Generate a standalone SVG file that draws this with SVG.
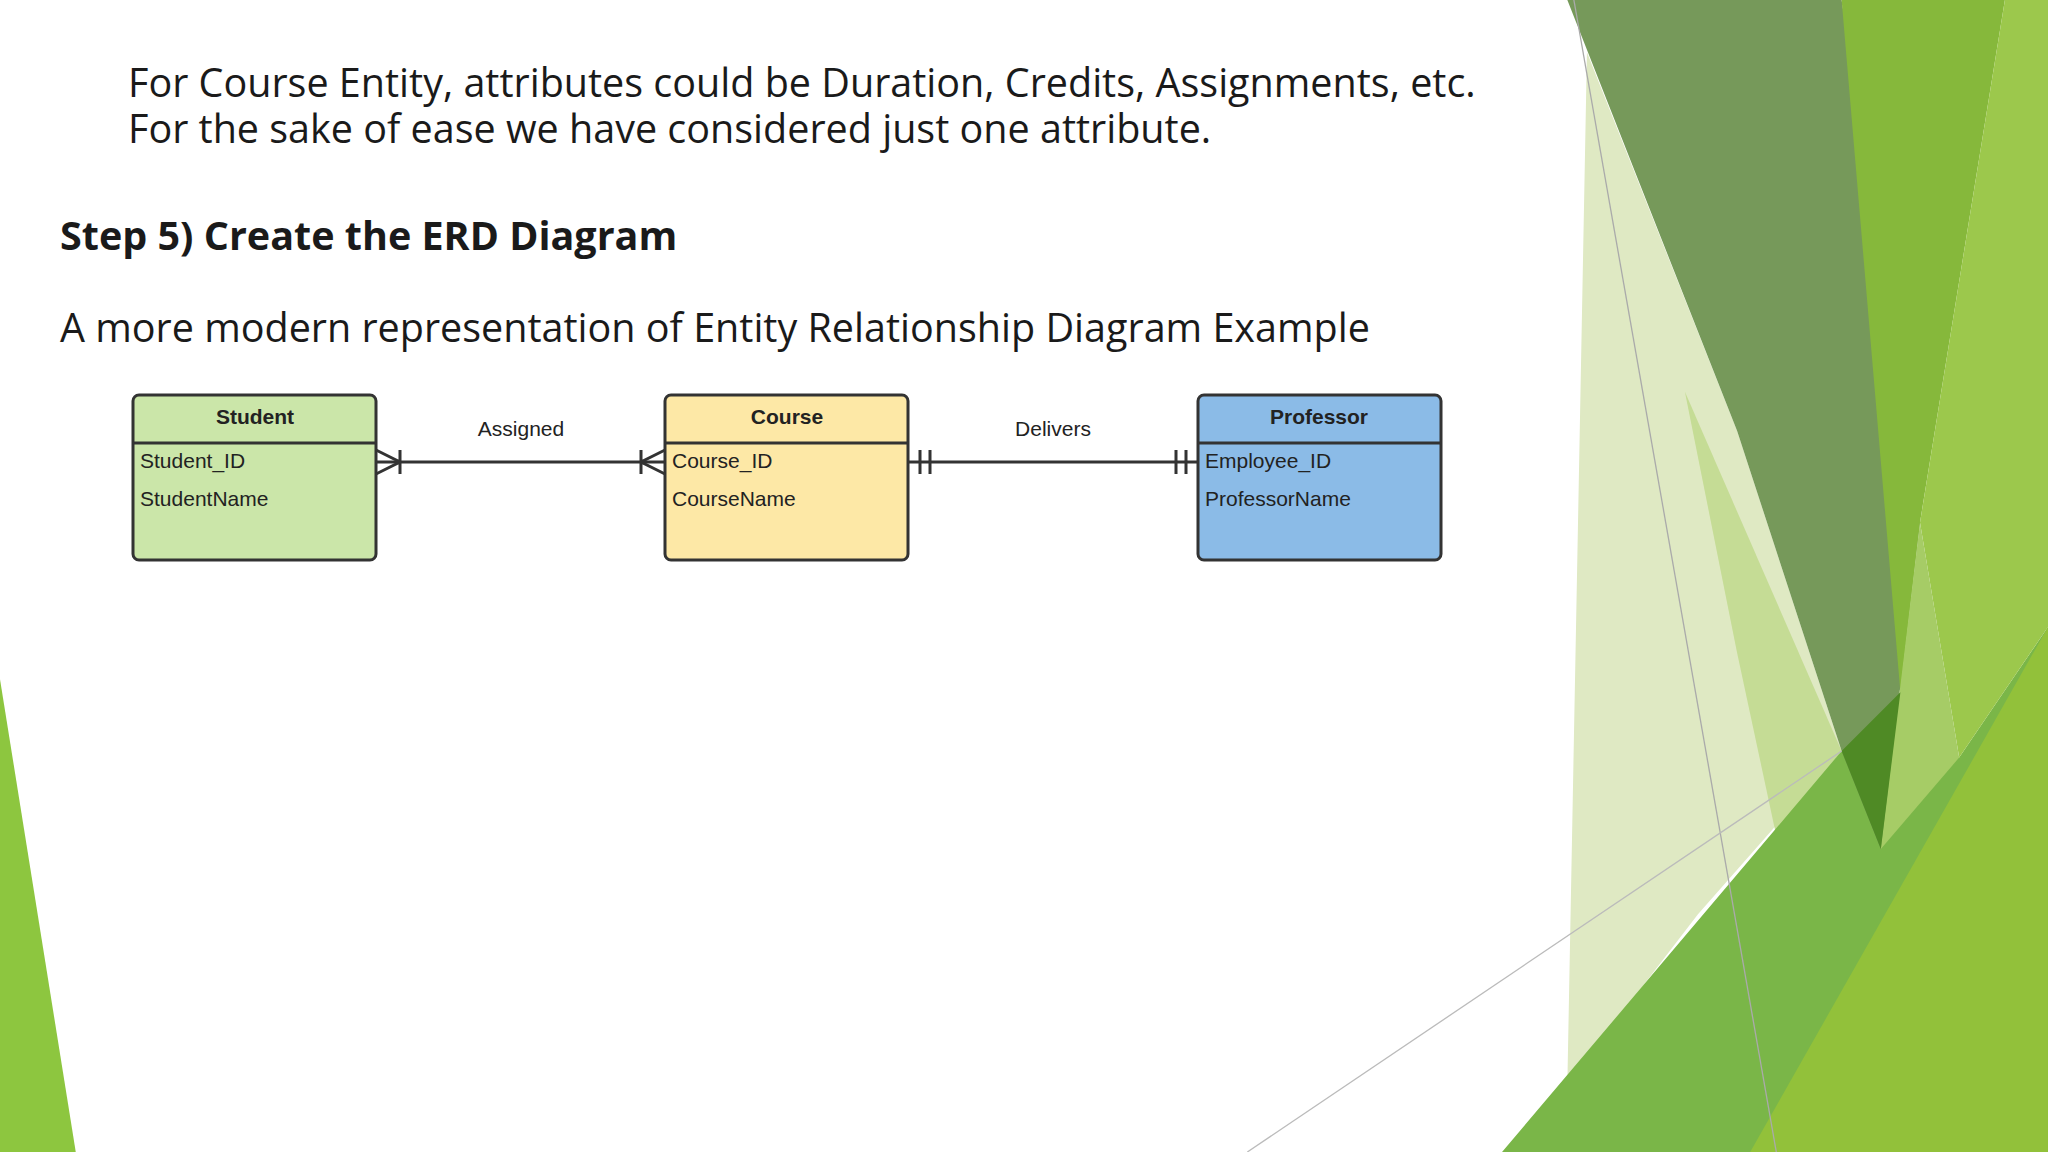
<svg xmlns="http://www.w3.org/2000/svg" width="2048" height="1152" viewBox="0 0 2048 1152">
<style>
.t{font-family:"Open Sans","Noto Sans",sans-serif;fill:#1a1a1a}
.e{font-family:"Liberation Sans",Arial,sans-serif;font-size:21px;fill:#222}
.h{font-weight:bold;text-anchor:middle}
.box{stroke:#333;stroke-width:3}
.ln{stroke:#333;stroke-width:3;fill:none}
</style>
<rect width="2048" height="1152" fill="#fff"/>
<g id="background" transform="scale(1.30612)">
<polygon points="0,520 58,882 0,882" fill="#8dc63f"/>
<polygon points="1215,40 1330,330 1410,575 1300,700 1200,830" fill="#dfe9c3"/>
<polygon points="1290,300 1410,575 1360,640 1330,500" fill="#c5dc95"/>
<polygon points="1150,882 1410,575 1455,530 1500,580 1568,480 1568,882" fill="#7ab648"/>
<polygon points="1200,0 1410,0 1470,400 1440,650 1410,575 1330,330" fill="#76995a"/>
<polygon points="1410,0 1535,0 1470,400 1455,530" fill="#86b83b"/>
<polygon points="1535,0 1568,0 1568,480 1500,580 1470,400" fill="#9cc84c"/>
<polygon points="1470,400 1500,580 1440,650" fill="#a6cc66"/>
<polygon points="1410,575 1455,530 1440,650" fill="#4f8a25"/>
<polygon points="1340,882 1568,480 1568,882" fill="#92c13a"/>
<line x1="1205" y1="0" x2="1360" y2="882" stroke="#aaa" stroke-width="1"/>
<line x1="955" y1="882" x2="1410" y2="575" stroke="#bbb" stroke-width="1"/>
</g>
<g id="texts">
<text class="t" x="128" y="97" font-size="39.5">For Course Entity, attributes could be Duration, Credits, Assignments, etc.</text>
<text class="t" x="128" y="143" font-size="39.5">For the sake of ease we have considered just one attribute.</text>
<text class="t" x="60" y="250" font-size="39.5" font-weight="bold">Step 5) Create the ERD Diagram</text>
<text class="t" x="60" y="342" font-size="39.5">A more modern representation of Entity Relationship Diagram Example</text>
</g>
<g id="student">
<rect class="box" x="133" y="395" width="243" height="165" rx="6" fill="#cbe6a9"/>
<line class="ln" x1="133" y1="443" x2="376" y2="443"/>
<text class="e h" x="255" y="424">Student</text>
<text class="e" x="140" y="468">Student_ID</text>
<text class="e" x="140" y="506">StudentName</text>
</g>
<g id="course">
<rect class="box" x="665" y="395" width="243" height="165" rx="6" fill="#fde8a6"/>
<line class="ln" x1="665" y1="443" x2="908" y2="443"/>
<text class="e h" x="787" y="424">Course</text>
<text class="e" x="672" y="468">Course_ID</text>
<text class="e" x="672" y="506">CourseName</text>
</g>
<g id="professor">
<rect class="box" x="1198" y="395" width="243" height="165" rx="6" fill="#8bbbe7"/>
<line class="ln" x1="1198" y1="443" x2="1441" y2="443"/>
<text class="e h" x="1319" y="424">Professor</text>
<text class="e" x="1205" y="468">Employee_ID</text>
<text class="e" x="1205" y="506">ProfessorName</text>
</g>
<g id="connectors">
<line class="ln" x1="376" y1="462" x2="665" y2="462"/>
<path class="ln" d="M376 450 L400 462 L376 474 M400 450 V474"/>
<path class="ln" d="M665 450 L641 462 L665 474 M641 450 V474"/>
<text class="e" x="521" y="436" text-anchor="middle">Assigned</text>
<line class="ln" x1="908" y1="462" x2="1198" y2="462"/>
<path class="ln" d="M920 450 V474 M930 450 V474 M1176 450 V474 M1186 450 V474"/>
<text class="e" x="1053" y="436" text-anchor="middle">Delivers</text>
</g>
</svg>
